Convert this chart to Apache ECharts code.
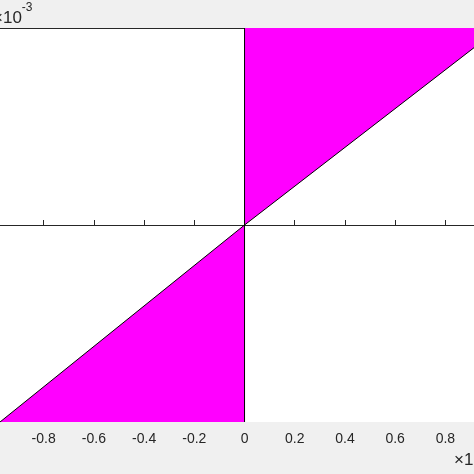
<!DOCTYPE html>
<html>
<head>
<meta charset="utf-8">
<script src="https://cdn.jsdelivr.net/npm/echarts@6/dist/echarts.min.js"></script>
<style>html,body{margin:0;padding:0;background:#f0f0f0;}#chart{width:474px;height:474px;}</style>
</head>
<body>
<div id="chart"></div>
<script>
// data
var xMin = -0.974, xMax = 0.914;
var tickValues = [-0.8, -0.6, -0.4, -0.2, 0, 0.2, 0.4, 0.6, 0.8];
var lowerLine = [[-0.974, -1], [0, 0]];
var upperLine = [[0, 0], [0.914, 0.9]];
var edgeLine = [[0, -1], [0, 1]];

var myChart = echarts.init(document.getElementById('chart'));
var option = {
    backgroundColor: "#f0f0f0",
    animation: false,
    grid: {
        left: 0, right: 0, top: 28, bottom: 52,
        show: true, backgroundColor: "#ffffff", borderWidth: 0
    },
    xAxis: [
        {
            type: "value", min: xMin, max: xMax,
            axisLine: { lineStyle: { color: "#262626", width: 1 } },
            axisTick: { inside: true, length: 5, customValues: tickValues, lineStyle: { color: "#262626" } },
            axisLabel: {
                customValues: tickValues, color: "#262626", fontSize: 14, margin: 10,
                fontFamily: "Liberation Sans, Arial", formatter: function (v) { return v === 0 ? "0" : String(v); }
            },
            splitLine: { show: false }
        },
        {
            type: "value", position: "top", min: xMin, max: xMax,
            axisLine: { lineStyle: { color: "#262626", width: 1 } },
            axisTick: { show: false }, axisLabel: { show: false }, splitLine: { show: false }
        }
    ],
    yAxis: {
        type: "value", min: -1, max: 1, show: false
    },
    series: [
        {
            type: "line", data: lowerLine, symbol: "none",
            lineStyle: { color: "#000000", width: 1 },
            areaStyle: { color: "#ff00ff", opacity: 1, origin: "start" }
        },
        {
            type: "line", data: upperLine, symbol: "none",
            lineStyle: { color: "#000000", width: 1 },
            areaStyle: { color: "#ff00ff", opacity: 1, origin: "end" }
        },
        {
            type: "line", data: edgeLine, symbol: "none",
            lineStyle: { color: "#000000", width: 1 }
        }
    ],
    graphic: [
        {
            type: "text", left: -7, top: 2,
            style: {
                text: "{b|×10}{s|-3}",
                rich: {
                    b: { fontSize: 17, fill: "#262626", fontFamily: "Liberation Sans, Arial", verticalAlign: "bottom", padding: [8, 0, 0, 0] },
                    s: { fontSize: 12, fill: "#262626", fontFamily: "Liberation Sans, Arial", verticalAlign: "top" }
                }
            }
        },
        {
            type: "text", left: 454, top: 452,
            style: { text: "×1", fontSize: 17, fill: "#262626", fontFamily: "Liberation Sans, Arial" }
        }
    ]
};
myChart.setOption(option);
</script>
</body>
</html>
